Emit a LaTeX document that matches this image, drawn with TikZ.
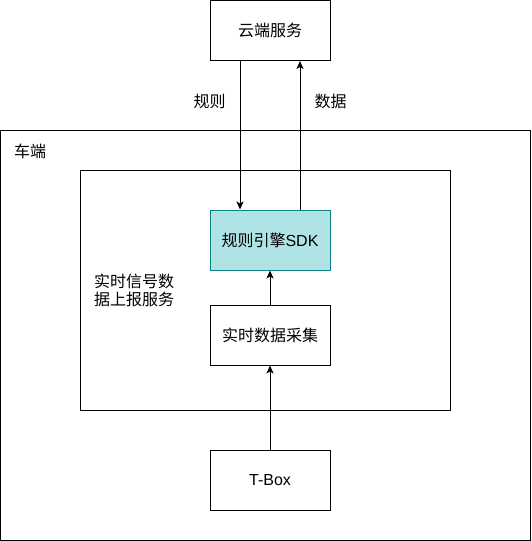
\documentclass[tikz,border=0pt]{standalone}
\usepackage{fontspec}
\setmainfont{Liberation Sans}
\newfontfamily\cjk{Noto Sans CJK SC}
\usepackage{xcolor}
\definecolor{SdkFill}{RGB}{176,227,230}
\definecolor{SdkLine}{RGB}{14,128,136}
\usepackage{tikz}
\usetikzlibrary{arrows.meta}
\tikzstyle{Box}=[draw=black,line width=1pt,minimum width=120pt,minimum height=60pt,
inner sep=0pt,font=\fontsize{16}{19}\selectfont]
\tikzstyle{Frame}=[draw=black,line width=1pt,inner sep=0pt]
\tikzstyle{Edge}=[draw=black,line width=1pt,-{Stealth[length=8pt,width=7pt,inset=2pt]}]
\tikzstyle{Label}=[font=\fontsize{16}{18}\selectfont\cjk,inner sep=0pt]

\begin{document}
\begin{tikzpicture}[x=1pt,y=-1pt]
        \useasboundingbox (0,0) rectangle (531,541);
        \node[Frame,minimum width=530pt,minimum height=410pt](car)at(265.5,335.5){};
        \node[Frame,minimum width=370pt,minimum height=240pt](svc)at(265,290){};
        \node[Box](cloud)at(270,30.5){\cjk 云端服务};
        \node[Box,fill=SdkFill,draw=SdkLine](sdk)at(270,240){{\cjk 规则引擎}SDK};
        \node[Box](collect)at(270,335){\cjk 实时数据采集};
        \node[Box](tbox)at(270,480){T-Box};
        \node[Label,anchor=west](carlbl)at(14,151){车端};
        \node[Label,anchor=west,align=left](svclbl)at(94,290){实时信号数\\据上报服务};
        \draw[Edge]([xshift=-30pt]cloud.south)--([xshift=-30pt]sdk.north)
            node[Label,pos=0.27,left=14pt]{规则};
        \draw[Edge]([xshift=30pt]sdk.north)--([xshift=30pt]cloud.south)
            node[Label,pos=0.73,right=14pt]{数据};
        \draw[Edge](collect)--(sdk);
        \draw[Edge](tbox)--(collect);
    \end{tikzpicture}
\end{document}
